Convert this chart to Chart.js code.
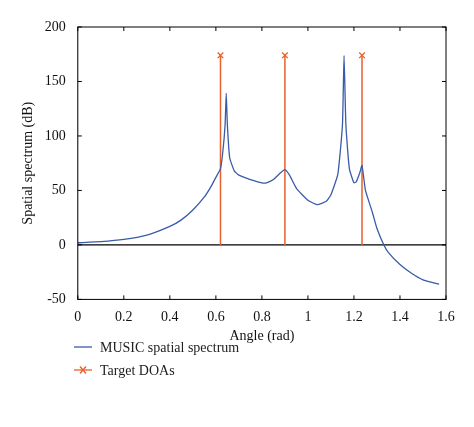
<!DOCTYPE html>
<html>
<head>
<script src="https://cdn.jsdelivr.net/npm/chart.js@4"></script>
<style>
  body { margin: 0; background: #fff; font-family: "Liberation Serif", serif; }
  #wrap { position: relative; width: 474px; height: 345px; }
  .legend { position: absolute; left: 72px; font-size: 14px; color: #222; }
  .legend span.key { display: inline-block; width: 22px; position: relative; height: 10px; margin-right: 6px; }
</style>
</head>
<body>
<div id="wrap"><canvas id="myChart" width="474" height="345"></canvas></div>
<div class="legend" style="top:340px">
  <span class="key"><svg width="22" height="10"><line x1="2" y1="5" x2="20" y2="5" stroke="#3a5ba8" stroke-width="1.3"/></svg></span>MUSIC spatial spectrum
</div>
<div class="legend" style="top:363px">
  <span class="key"><svg width="22" height="10"><line x1="2" y1="5" x2="20" y2="5" stroke="#e8602c" stroke-width="1.3"/><line x1="8" y1="1.5" x2="14" y2="8.5" stroke="#e8602c" stroke-width="1.3"/><line x1="14" y1="1.5" x2="8" y2="8.5" stroke="#e8602c" stroke-width="1.3"/></svg></span>Target DOAs
</div>
<script>
var angles = [0, 0.1, 0.2, 0.3, 0.4, 0.45, 0.5, 0.55, 0.58, 0.6, 0.62, 0.63, 0.64, 0.645, 0.65, 0.66, 0.68, 0.7, 0.75, 0.8, 0.82, 0.85, 0.88, 0.9, 0.92, 0.95, 1.0, 1.04, 1.08, 1.1, 1.13, 1.15, 1.157, 1.165, 1.18, 1.2, 1.21, 1.225, 1.235, 1.25, 1.28, 1.3, 1.33, 1.35, 1.4, 1.45, 1.5, 1.57];
var spectrum = [2, 3, 5, 9, 17, 23, 32, 44, 54, 62, 70, 85, 110, 139, 110, 80, 68, 64, 60, 57, 57, 60, 66, 69, 64, 52, 41, 37, 40, 46, 65, 110, 174, 110, 70, 57, 58, 66, 73, 50, 30, 15, 0, -7, -18, -26, -32, -36];
var doaAngles = [0.62, 0.9, 1.235];
var doaLevel = 174;
var xTicks = [0, 0.2, 0.4, 0.6, 0.8, 1, 1.2, 1.4, 1.6];
var yTicks = [-50, 0, 50, 100, 150, 200];

var blue = "#3a5ba8";
var orange = "#e8602c";

var datasets = [{
  data: angles.map(function (a, i) { return { x: a, y: spectrum[i] }; }),
  borderColor: blue, borderWidth: 1.3, pointRadius: 0, showLine: true, tension: 0.15, order: 1
}, {
  data: [{ x: 0, y: 0 }, { x: 1.6, y: 0 }],
  borderColor: "#000", borderWidth: 1.2, pointRadius: 0, showLine: true, order: 3
}];
doaAngles.forEach(function (a) {
  datasets.push({
    data: [{ x: a, y: 0 }, { x: a, y: doaLevel }],
    borderColor: orange, borderWidth: 1.5, showLine: true,
    pointStyle: "crossRot", pointRadius: [0, 4], pointBorderColor: orange, pointBorderWidth: 1.3,
    order: 2
  });
});

var boxPlugin = {
  id: "box",
  afterDraw: function (chart) {
    var c = chart.ctx, a = chart.chartArea;
    var xs = chart.scales.x, ys = chart.scales.y;
    c.save();
    c.strokeStyle = "#000";
    c.lineWidth = 1;
    c.strokeRect(a.left, a.top, a.right - a.left, a.bottom - a.top);
    xTicks.forEach(function (t) {
      var px = xs.getPixelForValue(t);
      c.beginPath();
      c.moveTo(px, a.bottom); c.lineTo(px, a.bottom - 4);
      c.moveTo(px, a.top); c.lineTo(px, a.top + 4);
      c.stroke();
    });
    yTicks.forEach(function (t) {
      var py = ys.getPixelForValue(t);
      c.beginPath();
      c.moveTo(a.left, py); c.lineTo(a.left + 4, py);
      c.moveTo(a.right, py); c.lineTo(a.right - 4, py);
      c.stroke();
    });
    c.restore();
  }
};

Chart.defaults.font.family = "Liberation Serif";
Chart.defaults.font.size = 14;
Chart.defaults.color = "#111";

const ctx = document.getElementById("myChart").getContext("2d");
const myChart = new Chart(ctx, {
  type: "scatter",
  data: { datasets: datasets },
  options: {
    responsive: false,
    animation: false,
    layout: { padding: { top: 27, right: 28, left: 16, bottom: 0 } },
    plugins: { legend: { display: false }, tooltip: { enabled: false } },
    scales: {
      x: {
        type: "linear", min: 0, max: 1.6,
        afterBuildTicks: function (s) { s.ticks = xTicks.map(function (v) { return { value: v }; }); },
        grid: { display: false },
        ticks: { callback: function (v) { return String(v); }, padding: 2 },
        title: { display: true, text: "Angle (rad)", padding: { top: 0, bottom: 0 } }
      },
      y: {
        min: -50, max: 200,
        afterBuildTicks: function (s) { s.ticks = yTicks.map(function (v) { return { value: v }; }); },
        grid: { display: false },
        ticks: { padding: 4 },
        title: { display: true, text: "Spatial spectrum (dB)" }
      }
    }
  },
  plugins: [boxPlugin]
});
</script>
</body>
</html>
